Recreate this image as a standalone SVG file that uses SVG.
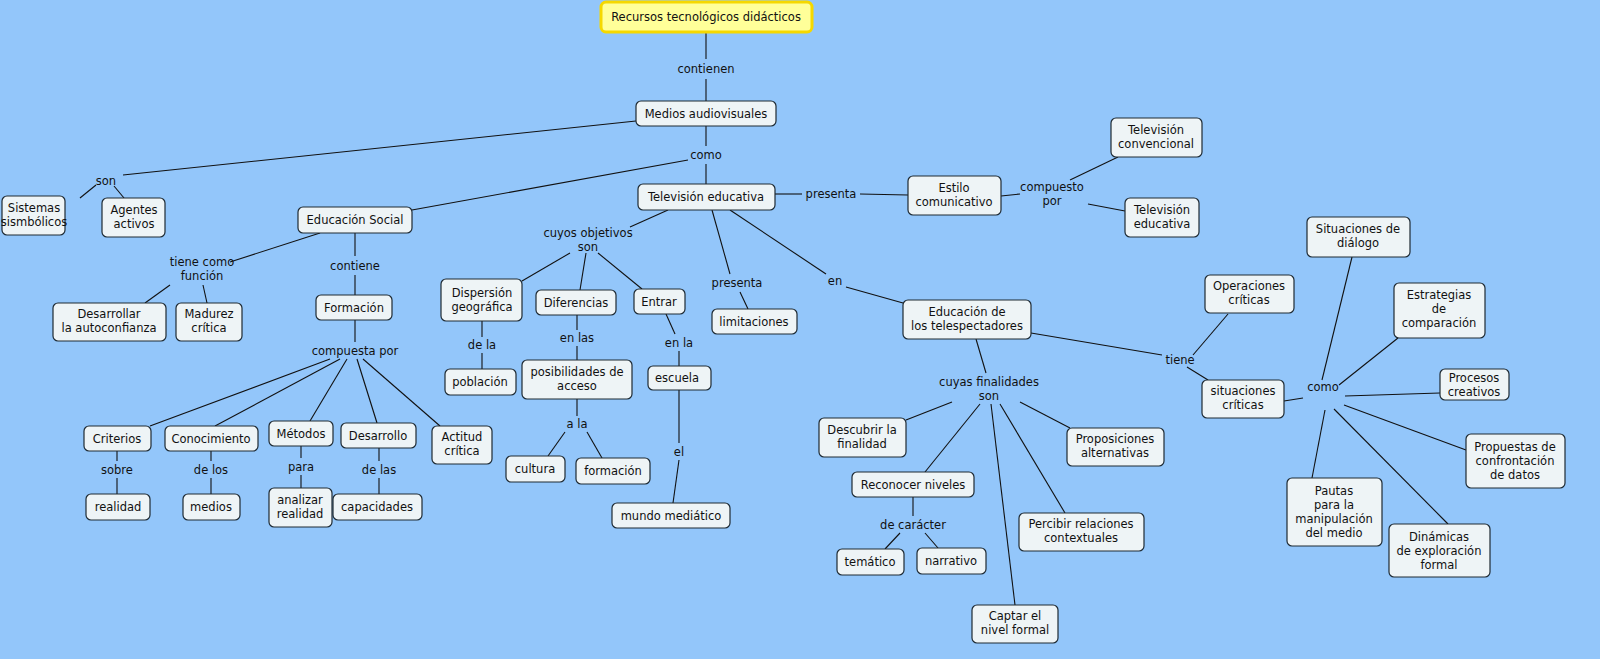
<svg xmlns="http://www.w3.org/2000/svg" width="1600" height="659" viewBox="0 0 1600 659">
<style>
.n rect{fill:#eef4f6;stroke:#1e2a33;stroke-width:1.2}
text{font-family:"DejaVu Sans",Verdana,sans-serif;font-size:11.5px;fill:#111;text-anchor:middle}
#connectors line{stroke:#111;stroke-width:1.1}
</style>
<rect width="1600" height="659" fill="#93c6fa"/>
<g id="connectors">
<line x1="706" y1="32" x2="706" y2="59"/><line x1="706" y1="79" x2="706" y2="101"/>
<line x1="636" y1="121" x2="123" y2="175"/><line x1="96" y1="185" x2="80" y2="198"/><line x1="114" y1="186" x2="124" y2="198"/>
<line x1="706" y1="126" x2="706" y2="146"/><line x1="688" y1="160" x2="412" y2="210"/><line x1="706" y1="164" x2="706" y2="184"/>
<line x1="775" y1="194" x2="802" y2="194"/><line x1="860" y1="194" x2="908" y2="195"/>
<line x1="1001" y1="196" x2="1020" y2="194"/><line x1="1070" y1="180" x2="1118" y2="157"/><line x1="1088" y1="204" x2="1125" y2="211"/>
<line x1="320" y1="233" x2="230" y2="262"/><line x1="170" y1="285" x2="145" y2="303"/><line x1="203" y1="285" x2="207" y2="303"/>
<line x1="355" y1="233" x2="355" y2="256"/><line x1="355" y1="275" x2="355" y2="295"/>
<line x1="355" y1="320" x2="355" y2="342"/>
<line x1="330" y1="359" x2="150" y2="426"/><line x1="340" y1="359" x2="215" y2="426"/><line x1="347" y1="359" x2="310" y2="421"/><line x1="357" y1="359" x2="377" y2="423"/><line x1="363" y1="359" x2="440" y2="426"/>
<line x1="117" y1="451" x2="117" y2="461"/><line x1="117" y1="478" x2="117" y2="494"/>
<line x1="211" y1="451" x2="211" y2="461"/><line x1="211" y1="478" x2="211" y2="494"/>
<line x1="301" y1="446" x2="301" y2="458"/><line x1="301" y1="475" x2="301" y2="488"/>
<line x1="379" y1="448" x2="379" y2="461"/><line x1="379" y1="478" x2="379" y2="494"/>
<line x1="668" y1="210" x2="630" y2="227"/>
<line x1="570" y1="253" x2="522" y2="281"/><line x1="586" y1="253" x2="580" y2="290"/><line x1="598" y1="253" x2="642" y2="289"/>
<line x1="482" y1="321" x2="482" y2="337"/><line x1="482" y1="353" x2="482" y2="369"/>
<line x1="577" y1="315" x2="577" y2="330"/><line x1="577" y1="346" x2="577" y2="360"/>
<line x1="666" y1="314" x2="675" y2="334"/><line x1="679" y1="351" x2="679" y2="366"/>
<line x1="577" y1="399" x2="577" y2="416"/><line x1="565" y1="432" x2="548" y2="456"/><line x1="587" y1="432" x2="602" y2="458"/>
<line x1="679" y1="390" x2="679" y2="443"/><line x1="679" y1="460" x2="673" y2="503"/>
<line x1="712" y1="210" x2="730" y2="274"/><line x1="740" y1="292" x2="748" y2="309"/>
<line x1="730" y1="210" x2="826" y2="274"/><line x1="846" y1="287" x2="903" y2="303"/>
<line x1="976" y1="339" x2="986" y2="373"/>
<line x1="952" y1="402" x2="906" y2="420"/><line x1="980" y1="404" x2="925" y2="472"/><line x1="1020" y1="402" x2="1070" y2="428"/><line x1="1000" y1="404" x2="1065" y2="513"/><line x1="991" y1="404" x2="1015" y2="605"/>
<line x1="913" y1="497" x2="913" y2="516"/><line x1="900" y1="533" x2="885" y2="549"/><line x1="925" y1="533" x2="938" y2="548"/>
<line x1="1031" y1="333" x2="1162" y2="355"/><line x1="1193" y1="355" x2="1228" y2="314"/><line x1="1187" y1="367" x2="1208" y2="380"/>
<line x1="1284" y1="401" x2="1303" y2="398"/>
<line x1="1352" y1="257" x2="1322" y2="380"/><line x1="1339" y1="385" x2="1398" y2="338"/><line x1="1345" y1="396" x2="1440" y2="393"/><line x1="1344" y1="405" x2="1466" y2="450"/><line x1="1334" y1="409" x2="1448" y2="524"/><line x1="1325" y1="410" x2="1312" y2="478"/>
</g>
<g>
<text x="706" y="73">contienen</text>
<text x="106" y="185">son</text>
<text x="706" y="159">como</text>
<text x="831" y="198">presenta</text>
<text x="1052" y="191">compuesto</text><text x="1052" y="205">por</text>
<text x="202" y="266">tiene como</text><text x="202" y="280">función</text>
<text x="355" y="270">contiene</text>
<text x="355" y="355">compuesta por</text>
<text x="117" y="474">sobre</text><text x="211" y="474">de los</text><text x="301" y="471">para</text><text x="379" y="474">de las</text>
<text x="588" y="237">cuyos objetivos</text><text x="588" y="251">son</text>
<text x="482" y="349">de la</text><text x="577" y="342">en las</text><text x="679" y="347">en la</text><text x="577" y="428">a la</text><text x="679" y="456">el</text>
<text x="737" y="287">presenta</text><text x="835" y="285">en</text>
<text x="989" y="386">cuyas finalidades</text><text x="989" y="400">son</text>
<text x="913" y="529">de carácter</text>
<text x="1180" y="364">tiene</text><text x="1323" y="391">como</text>
</g>
<g id="root"><rect x="601" y="2" width="211" height="30" rx="5" fill="#ffff99" stroke="#f5d800" stroke-width="3"/><text x="706" y="21">Recursos tecnológicos didácticos</text></g>
<g id="medios" class="n"><rect x="636" y="101" width="140" height="25" rx="5"/><text x="706" y="118">Medios audiovisuales</text></g>
<g id="sistemas" class="n"><rect x="2" y="196" width="63" height="39" rx="5"/><text x="34" y="212">Sistemas</text><text x="34" y="226">sismbólicos</text></g>
<g id="agentes" class="n"><rect x="102" y="198" width="63" height="39" rx="5"/><text x="134" y="214">Agentes</text><text x="134" y="228">activos</text></g>
<g id="edsocial" class="n"><rect x="298" y="207" width="114" height="26" rx="5"/><text x="355" y="224">Educación Social</text></g>
<g id="tvedu" class="n"><rect x="638" y="184" width="137" height="26" rx="5"/><text x="706" y="201">Televisión educativa</text></g>
<g id="estilo" class="n"><rect x="908" y="176" width="93" height="39" rx="5"/><text x="954" y="192">Estilo</text><text x="954" y="206">comunicativo</text></g>
<g id="tvconv" class="n"><rect x="1111" y="118" width="91" height="39" rx="5"/><text x="1156" y="134">Televisión</text><text x="1156" y="148">convencional</text></g>
<g id="tvedu2" class="n"><rect x="1125" y="198" width="74" height="39" rx="5"/><text x="1162" y="214">Televisión</text><text x="1162" y="228">educativa</text></g>
<g id="autoconf" class="n"><rect x="53" y="303" width="113" height="38" rx="5"/><text x="109" y="318">Desarrollar</text><text x="109" y="332">la autoconfianza</text></g>
<g id="madurez" class="n"><rect x="176" y="303" width="66" height="38" rx="5"/><text x="209" y="318">Madurez</text><text x="209" y="332">crítica</text></g>
<g id="formacion" class="n"><rect x="316" y="295" width="76" height="25" rx="5"/><text x="354" y="312">Formación</text></g>
<g id="criterios" class="n"><rect x="84" y="426" width="67" height="25" rx="5"/><text x="117" y="443">Criterios</text></g>
<g id="conoc" class="n"><rect x="165" y="426" width="93" height="25" rx="5"/><text x="211" y="443">Conocimiento</text></g>
<g id="metodos" class="n"><rect x="269" y="421" width="64" height="25" rx="5"/><text x="301" y="438">Métodos</text></g>
<g id="desarrollo" class="n"><rect x="341" y="423" width="75" height="25" rx="5"/><text x="378" y="440">Desarrollo</text></g>
<g id="actitud" class="n"><rect x="432" y="426" width="60" height="38" rx="5"/><text x="462" y="441">Actitud</text><text x="462" y="455">crítica</text></g>
<g id="realidad" class="n"><rect x="86" y="494" width="64" height="26" rx="5"/><text x="118" y="511">realidad</text></g>
<g id="mediosn" class="n"><rect x="183" y="494" width="57" height="26" rx="5"/><text x="211" y="511">medios</text></g>
<g id="analizar" class="n"><rect x="269" y="488" width="63" height="39" rx="5"/><text x="300" y="504">analizar</text><text x="300" y="518">realidad</text></g>
<g id="capac" class="n"><rect x="333" y="494" width="89" height="26" rx="5"/><text x="377" y="511">capacidades</text></g>
<g id="dispersion" class="n"><rect x="441" y="279" width="81" height="42" rx="5"/><text x="482" y="297">Dispersión</text><text x="482" y="311">geográfica</text></g>
<g id="diferencias" class="n"><rect x="536" y="290" width="80" height="25" rx="5"/><text x="576" y="307">Diferencias</text></g>
<g id="entrar" class="n"><rect x="634" y="289" width="51" height="25" rx="5"/><text x="659" y="306">Entrar</text></g>
<g id="poblacion" class="n"><rect x="445" y="369" width="71" height="26" rx="5"/><text x="480" y="386">población</text></g>
<g id="posib" class="n"><rect x="522" y="360" width="110" height="39" rx="5"/><text x="577" y="376">posibilidades de</text><text x="577" y="390">acceso</text></g>
<g id="escuela" class="n"><rect x="648" y="366" width="63" height="24" rx="5"/><text x="677" y="382">escuela</text></g>
<g id="cultura" class="n"><rect x="506" y="456" width="59" height="26" rx="5"/><text x="535" y="473">cultura</text></g>
<g id="formacion2" class="n"><rect x="576" y="458" width="74" height="26" rx="5"/><text x="613" y="475">formación</text></g>
<g id="mundo" class="n"><rect x="612" y="503" width="118" height="25" rx="5"/><text x="671" y="520">mundo mediático</text></g>
<g id="limit" class="n"><rect x="712" y="309" width="85" height="25" rx="5"/><text x="754" y="326">limitaciones</text></g>
<g id="edtele" class="n"><rect x="903" y="300" width="128" height="39" rx="5"/><text x="967" y="316">Educación de</text><text x="967" y="330">los telespectadores</text></g>
<g id="descubrir" class="n"><rect x="819" y="418" width="87" height="39" rx="5"/><text x="862" y="434">Descubrir la</text><text x="862" y="448">finalidad</text></g>
<g id="reconocer" class="n"><rect x="852" y="472" width="122" height="25" rx="5"/><text x="913" y="489">Reconocer niveles</text></g>
<g id="proposic" class="n"><rect x="1067" y="428" width="97" height="38" rx="5"/><text x="1115" y="443">Proposiciones</text><text x="1115" y="457">alternativas</text></g>
<g id="percibir" class="n"><rect x="1019" y="513" width="125" height="38" rx="5"/><text x="1081" y="528">Percibir relaciones</text><text x="1081" y="542">contextuales</text></g>
<g id="captar" class="n"><rect x="972" y="605" width="86" height="38" rx="5"/><text x="1015" y="620">Captar el</text><text x="1015" y="634">nivel formal</text></g>
<g id="tematico" class="n"><rect x="837" y="549" width="67" height="26" rx="5"/><text x="870" y="566">temático</text></g>
<g id="narrativo" class="n"><rect x="917" y="548" width="69" height="26" rx="5"/><text x="951" y="565">narrativo</text></g>
<g id="operac" class="n"><rect x="1205" y="275" width="89" height="38" rx="5"/><text x="1249" y="290">Operaciones</text><text x="1249" y="304">críticas</text></g>
<g id="situac" class="n"><rect x="1202" y="380" width="82" height="38" rx="5"/><text x="1243" y="395">situaciones</text><text x="1243" y="409">críticas</text></g>
<g id="dialogo" class="n"><rect x="1307" y="217" width="103" height="40" rx="5"/><text x="1358" y="233">Situaciones de</text><text x="1358" y="247">diálogo</text></g>
<g id="estrateg" class="n"><rect x="1394" y="283" width="91" height="55" rx="5"/><text x="1439" y="299">Estrategias</text><text x="1439" y="313">de</text><text x="1439" y="327">comparación</text></g>
<g id="procesos" class="n"><rect x="1440" y="369" width="69" height="31" rx="5"/><text x="1474" y="382">Procesos</text><text x="1474" y="396">creativos</text></g>
<g id="propuestas" class="n"><rect x="1466" y="434" width="99" height="54" rx="5"/><text x="1515" y="451">Propuestas de</text><text x="1515" y="465">confrontación</text><text x="1515" y="479">de datos</text></g>
<g id="dinamicas" class="n"><rect x="1389" y="524" width="101" height="53" rx="5"/><text x="1439" y="541">Dinámicas</text><text x="1439" y="555">de exploración</text><text x="1439" y="569">formal</text></g>
<g id="pautas" class="n"><rect x="1287" y="478" width="95" height="68" rx="5"/><text x="1334" y="495">Pautas</text><text x="1334" y="509">para la</text><text x="1334" y="523">manipulación</text><text x="1334" y="537">del medio</text></g>
</svg>
